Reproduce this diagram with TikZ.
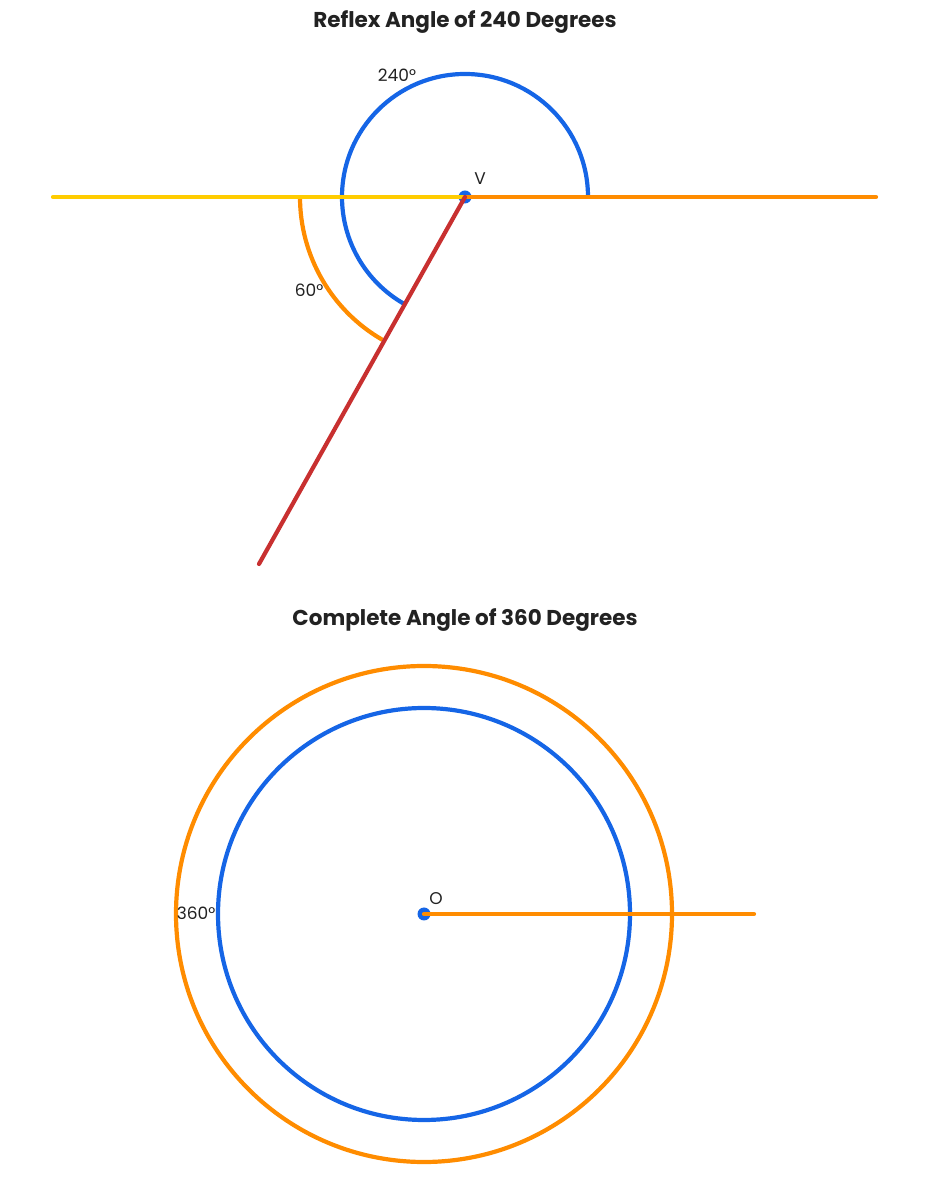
\documentclass[tikz,border=0pt]{standalone}
\usepackage{fontspec}
\setmainfont{Poppins}
\usepackage{tikz}

\definecolor{angblue}{HTML}{1565E6}
\definecolor{angyellow}{HTML}{FFCC00}
\definecolor{angorange}{HTML}{FF8C00}
\definecolor{angred}{HTML}{C83030}
\definecolor{inkgray}{HTML}{222222}

\tikzset{
	ray/.style={line width=4.2pt, line cap=round},
	arcline/.style={line width=4.2pt},
	title/.style={text=inkgray, font=\fontsize{21.5}{26}\selectfont\bfseries},
	lbl/.style={text=inkgray, font=\fontsize{17}{20}\selectfont, inner sep=0pt}
}

\begin{document}
\begin{tikzpicture}[x=1pt, y=1pt]
	\useasboundingbox (0,0) rectangle (930,1200);
	
	% reflex angle
	\node[title] (title reflex) at (465,1178) {Reflex Angle of 240 Degrees};
	\coordinate (V) at (465,1003);
	\coordinate (left end) at (53,1003);
	\coordinate (right end) at (876,1003);
	\coordinate (red end) at (259,636);
	\draw[angblue, arcline] (588,1003) arc (0:240:123);
	\draw[angorange, arcline] (300,1003) arc (180:240:165);
	\fill[angblue] (V) circle (6.5);
	\draw[angyellow, ray] (left end) -- (V);
	\draw[angorange, ray] (V) -- (right end);
	\draw[angred, ray] (V) -- (red end);
	\node[lbl] (lbl 240) at (397,1125) {240°};
	\node[lbl] (lbl 60) at (309,910) {60°};
	\node[lbl] (lbl V) at (480,1021) {V};
	
	% complete angle
	\node[title] (title complete) at (465,580) {Complete Angle of 360 Degrees};
	\coordinate (O) at (424,286);
	\coordinate (O end) at (754,286);
	\draw[angorange, arcline] (O) circle (248);
	\draw[angblue, arcline] (O) circle (206);
	\fill[angblue] (O) circle (6.5);
	\draw[angorange, ray] (O) -- (O end);
	\node[lbl] (lbl 360) at (196,287) {360°};
	\node[lbl] (lbl O) at (436,301) {O};
	
\end{tikzpicture}
\end{document}
